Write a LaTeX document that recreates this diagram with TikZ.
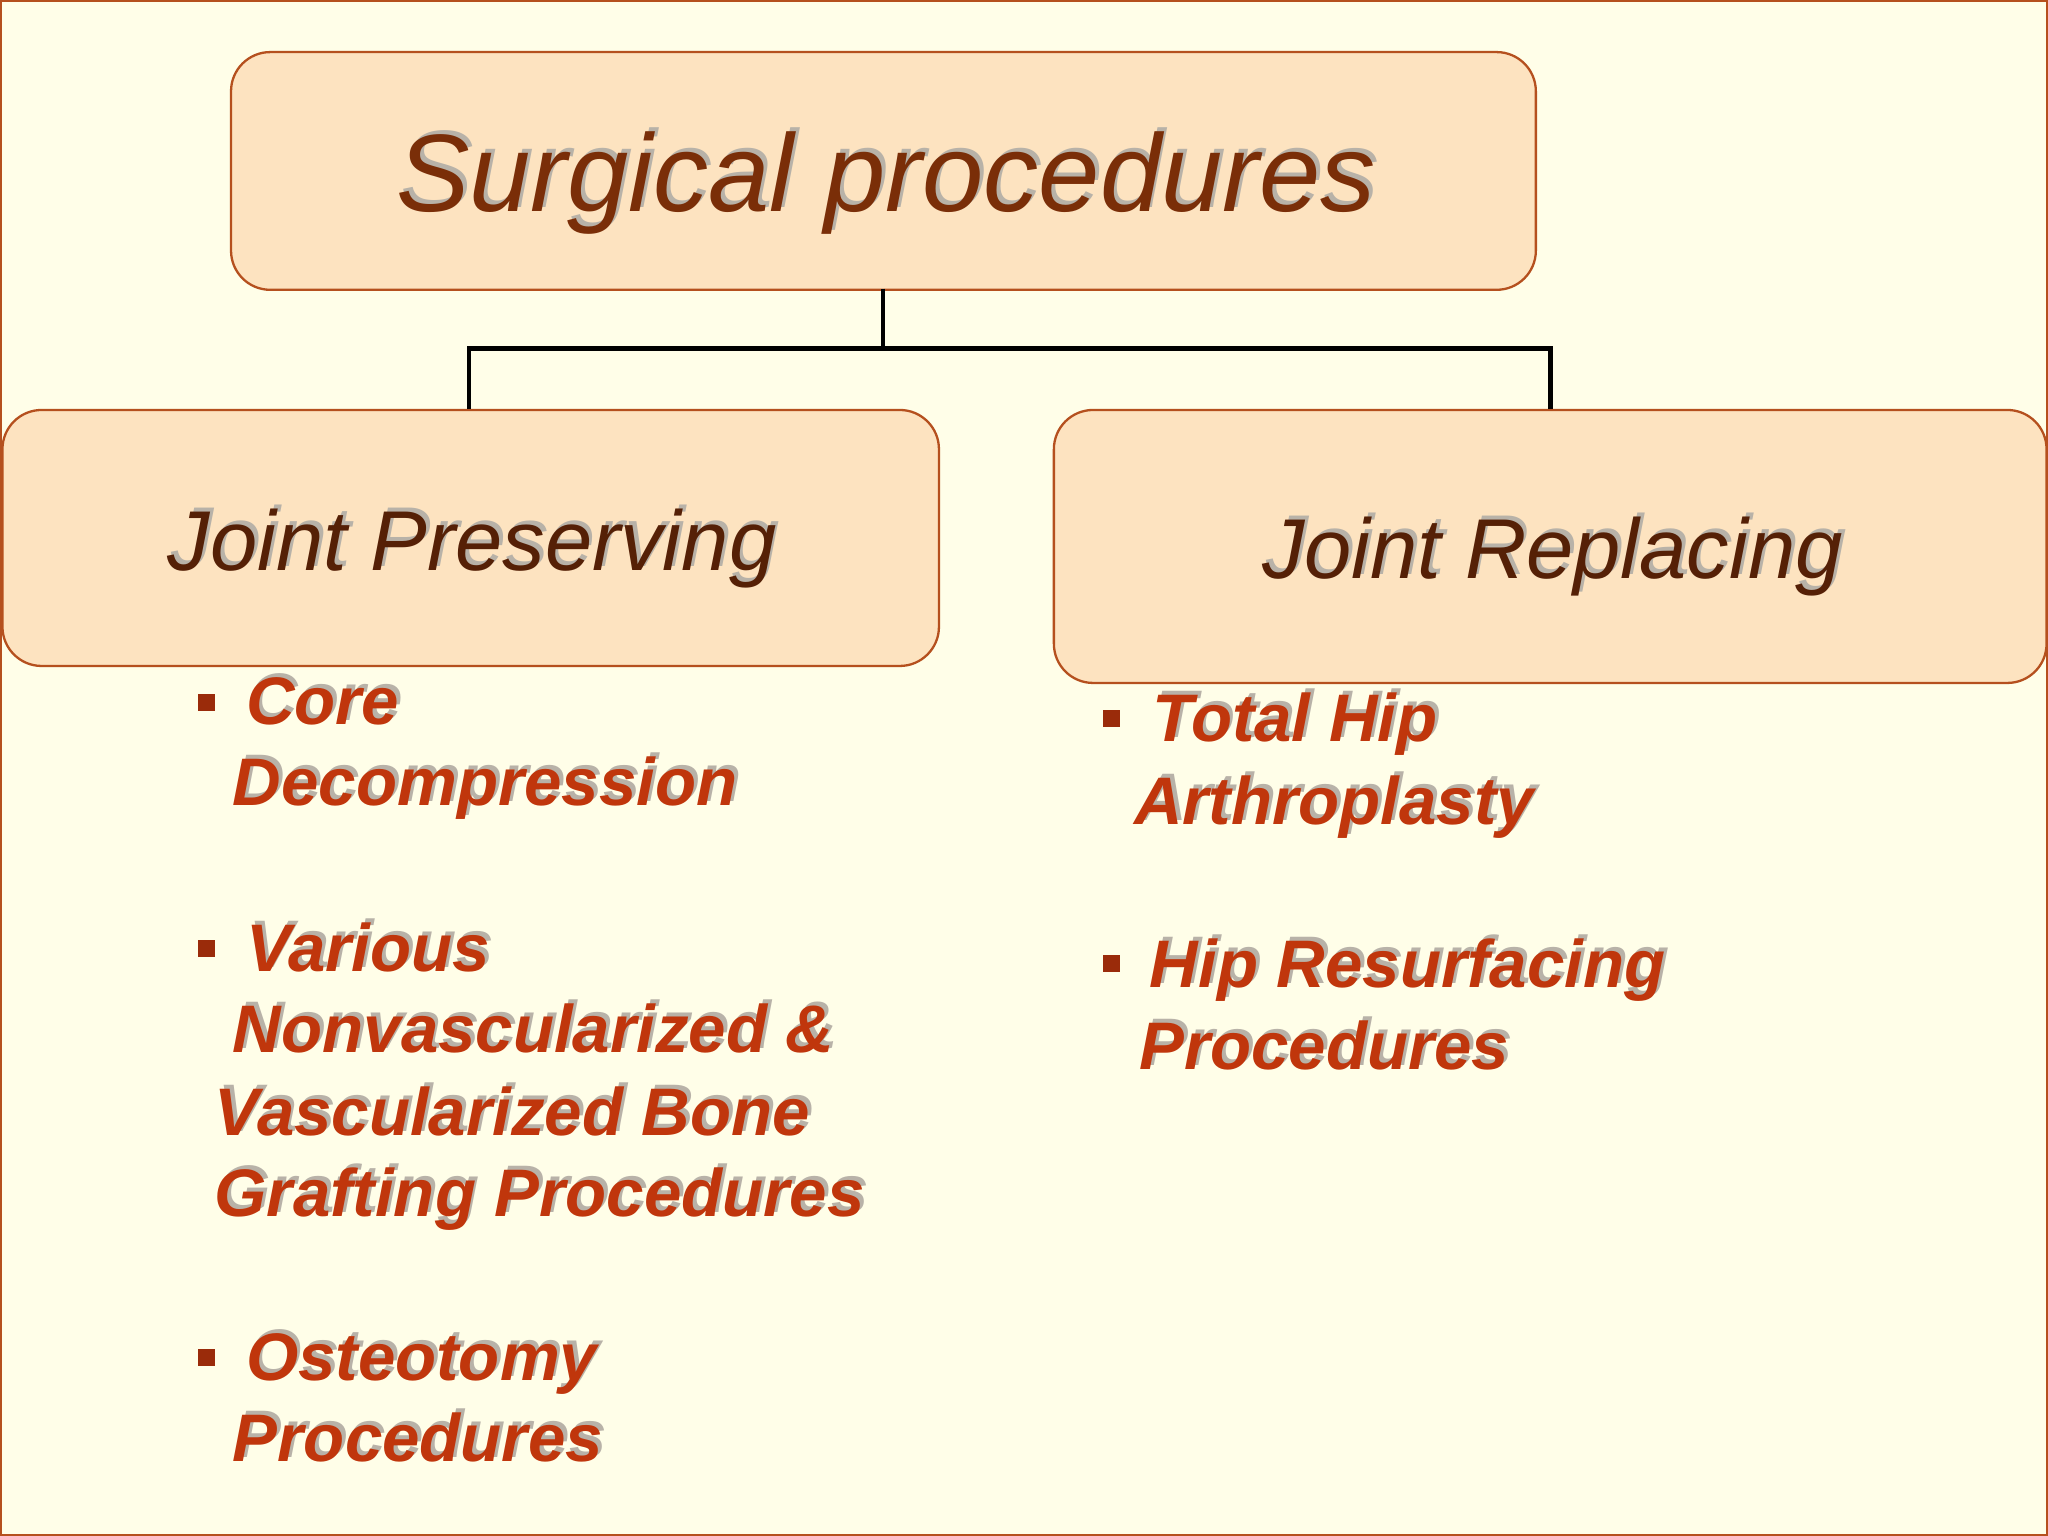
\documentclass[tikz,border=0pt]{standalone}
\usepackage{fontspec}
\setmainfont{Liberation Sans}
\definecolor{bg}{HTML}{FFFEE8}
\definecolor{boxfill}{HTML}{FDE3C0}
\definecolor{boxline}{HTML}{B5501E}
\definecolor{head}{HTML}{7A2E08}
\definecolor{itemc}{HTML}{C0360C}
\definecolor{shad}{HTML}{B8B2A8}
\newcommand{\shtxt}[6]{%
 \node[anchor=base west,inner sep=0,text=shad,font=#4] at (#2+3,#3-3) {#6};
 \node[anchor=base west,inner sep=0,text=#5,font=#4] (#1) at (#2,#3) {#6};}
\begin{document}
\begin{tikzpicture}[x=0.02cm,y=-0.02cm,
 box/.style={draw=boxline,line width=1pt,fill=boxfill,rounded corners=0.6cm},
 conn/.style={draw=black,line width=2pt},
 bul/.style={fill=itemc!80!black,minimum size=0.26cm,inner sep=0,anchor=center}]
\useasboundingbox (0,0) rectangle (1568,1176);
\fill[bg,draw=boxline,line width=1pt] (0.5,0.5) rectangle (1567.5,1175.5);
\node[box,minimum width=999*0.02cm,minimum height=182*0.02cm,anchor=north west] (top) at (176,39) {};
\node[box,minimum width=717*0.02cm,minimum height=196*0.02cm,anchor=north west] (lbox) at (1,313) {};
\node[box,minimum width=760*0.02cm,minimum height=209*0.02cm,anchor=north west] (rbox) at (806,313) {};
\coordinate (j) at (676,267);
\draw[conn] (676,221) -- (j);
\draw[conn] (j) -| (lbox.north -| 359,0);
\draw[conn] (j) -| (rbox.north -| 1187,0);
\shtxt{t1}{303}{162}{\fontsize{48}{50}\selectfont\itshape}{head}{Surgical procedures}
\shtxt{t2}{128}{437}{\fontsize{37}{40}\selectfont\itshape}{head!70!black}{Joint Preserving}
\shtxt{t3}{966}{443}{\fontsize{37}{40}\selectfont\itshape}{head!70!black}{Joint Replacing}
\def\itf{\fontsize{29.3}{30}\selectfont\bfseries\itshape}
\node[bul] (b1) at (158,538) {};
\shtxt{l1}{188}{555}{\itf}{itemc}{Core}
\shtxt{l2}{178}{617}{\itf}{itemc}{Decompression}
\node[bul] (b2) at (158,726) {};
\shtxt{l3}{188}{744}{\itf}{itemc}{Various}
\shtxt{l4}{178}{806}{\itf}{itemc}{Nonvascularized \&}
\shtxt{l5}{164}{869}{\itf}{itemc}{Vascularized Bone}
\shtxt{l6}{164}{931}{\itf}{itemc}{Grafting Procedures}
\node[bul] (b3) at (158,1039) {};
\shtxt{l7}{188}{1057}{\itf}{itemc}{Osteotomy}
\shtxt{l8}{178}{1119}{\itf}{itemc}{Procedures}
\node[bul] (b4) at (851,550) {};
\shtxt{r1}{882}{568}{\itf}{itemc}{Total Hip}
\shtxt{r2}{868}{631}{\itf}{itemc}{Arthroplasty}
\node[bul] (b5) at (851,738) {};
\shtxt{r3}{880}{756}{\itf}{itemc}{Hip Resurfacing}
\shtxt{r4}{872}{819}{\itf}{itemc}{Procedures}
\end{tikzpicture}
\end{document}
